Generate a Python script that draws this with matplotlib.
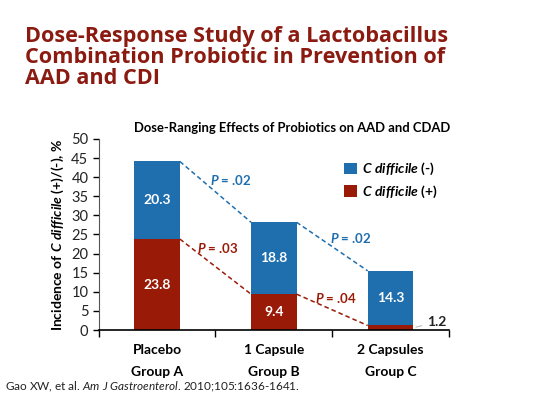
import matplotlib.pyplot as plt
import numpy as np

plt.rcParams['font.family'] = ['Lato', 'DejaVu Sans']
plt.rcParams['mathtext.fontset'] = 'custom'
plt.rcParams['mathtext.rm'] = 'Lato'
plt.rcParams['mathtext.it'] = 'Lato:italic'
plt.rcParams['mathtext.bf'] = 'Lato:bold'
plt.rcParams['mathtext.bfit'] = 'Lato:italic:bold'

# data
groups = ['Placebo\nGroup A', '1 Capsule\nGroup B', '2 Capsules\nGroup C']
cdiff_pos = [23.8, 9.4, 1.2]
cdiff_neg = [20.3, 18.8, 14.3]
p_neg = ['.02', '.02']
p_pos = ['.03', '.04']

blue = '#1f6eae'
red = '#9a1a08'
title_red = '#8b1a10'

fig = plt.figure(figsize=(5.4, 4.05), dpi=100)
ax = fig.add_axes([0.183, 0.185, 0.648, 0.472])

x = np.arange(len(groups))
w = 0.39
totals = [a + b for a, b in zip(cdiff_pos, cdiff_neg)]
ax.bar(x, cdiff_pos, w, color=red, label=r'$\mathbfit{C\ difficile}$ (+)', zorder=2)
ax.bar(x, cdiff_neg, w, bottom=cdiff_pos, color=blue,
       label=r'$\mathbfit{C\ difficile}$ (-)', zorder=2)

# dashed connectors between bars
for i in range(len(groups) - 1):
    ax.plot([x[i] + w / 2, x[i + 1] - w / 2], [totals[i], totals[i + 1]],
            ls='--', color=blue, lw=1.1, dashes=(3, 2))
    ax.plot([x[i] + w / 2, x[i + 1] - w / 2], [cdiff_pos[i], cdiff_pos[i + 1]],
            ls='--', color=red, lw=1.1, dashes=(3, 2))

# p-value labels
ax.text(0.45, 39.3, r'$\mathbfit{P}$ = ' + p_neg[0], color=blue, fontsize=9.5,
        fontweight='bold', va='center', ha='left')
ax.text(1.48, 24.1, r'$\mathbfit{P}$ = ' + p_neg[1], color=blue, fontsize=9.5,
        fontweight='bold', va='center', ha='left')
ax.text(0.34, 21.5, r'$\mathbfit{P}$ = ' + p_pos[0], color=red, fontsize=9.5,
        fontweight='bold', va='center', ha='left')
ax.text(1.35, 8.4, r'$\mathbfit{P}$ = ' + p_pos[1], color=red, fontsize=9.5,
        fontweight='bold', va='center', ha='left')

# value labels
for i in range(len(groups)):
    if cdiff_pos[i] > 3:
        ax.text(x[i], cdiff_pos[i] / 2, f'{cdiff_pos[i]:.1f}', color='white',
                ha='center', va='center', fontsize=10, fontweight='bold')
    else:
        ax.annotate(f'{cdiff_pos[i]:.1f}', xy=(x[i] + w / 2, cdiff_pos[i] / 2),
                    xytext=(x[i] + w / 2 + 0.12, 2.1), ha='left', va='center',
                    fontsize=10, fontweight='bold', color='#222222',
                    arrowprops=dict(arrowstyle='-', color='#bbbbbb', lw=0.8))
    ax.text(x[i], cdiff_pos[i] + cdiff_neg[i] / 2, f'{cdiff_neg[i]:.1f}',
            color='white', ha='center', va='center', fontsize=10, fontweight='bold')

ax.set_xlim(-0.5, 2.5)
ax.set_ylim(0, 50)
ax.set_yticks(range(0, 51, 5))
ax.set_xticks([-0.5, 0.5, 1.5, 2.5])
ax.set_xticklabels([])
ax.set_xticks(x, minor=True)
ax.set_xticklabels(groups, minor=True, fontsize=10, fontweight='bold',
                   linespacing=2.0)
ax.tick_params(axis='x', which='minor', length=0, pad=10)
ax.tick_params(axis='x', which='major', length=5, width=1, direction='out')
ax.tick_params(axis='y', length=4, width=1, labelsize=10.5, labelcolor='#222222')
for s in ['top', 'right']:
    ax.spines[s].set_visible(False)
ax.spines['left'].set_color('#555555')
ax.spines['bottom'].set_linewidth(1.2)

ax.set_ylabel(r'Incidence of $\mathbfit{C\ difficile}$ (+)/(-), %', fontsize=10,
              fontweight='bold', labelpad=4)

handles, labels = ax.get_legend_handles_labels()
ax.legend(handles[::-1], labels[::-1], loc='upper left', bbox_to_anchor=(0.665, 0.95),
          frameon=False, prop={'weight': 'bold', 'size': 10},
          handlelength=0.9, handleheight=0.9, handletextpad=0.4, labelspacing=0.45)

ax.text(0.553, 1.055, 'Dose-Ranging Effects of Probiotics on AAD and CDAD',
        transform=ax.transAxes, fontsize=9.4, fontweight='bold',
        ha='center', va='center')

fig.text(0.046, 0.937, 'Dose-Response Study of a Lactobacillus\n'
         'Combination Probiotic in Prevention of\nAAD and CDI',
         color=title_red, fontsize=15.6, fontweight='bold', va='top', ha='left',
         linespacing=1.03, family=['Open Sans', 'DejaVu Sans'])

fig.text(0.01, 0.044, r'Gao XW, et al. $\mathit{Am\ J\ Gastroenterol}$. 2010;105:1636-1641.',
         fontsize=8.5, va='center', ha='left', color='#222222')

fig.savefig('out.png', dpi=100)
